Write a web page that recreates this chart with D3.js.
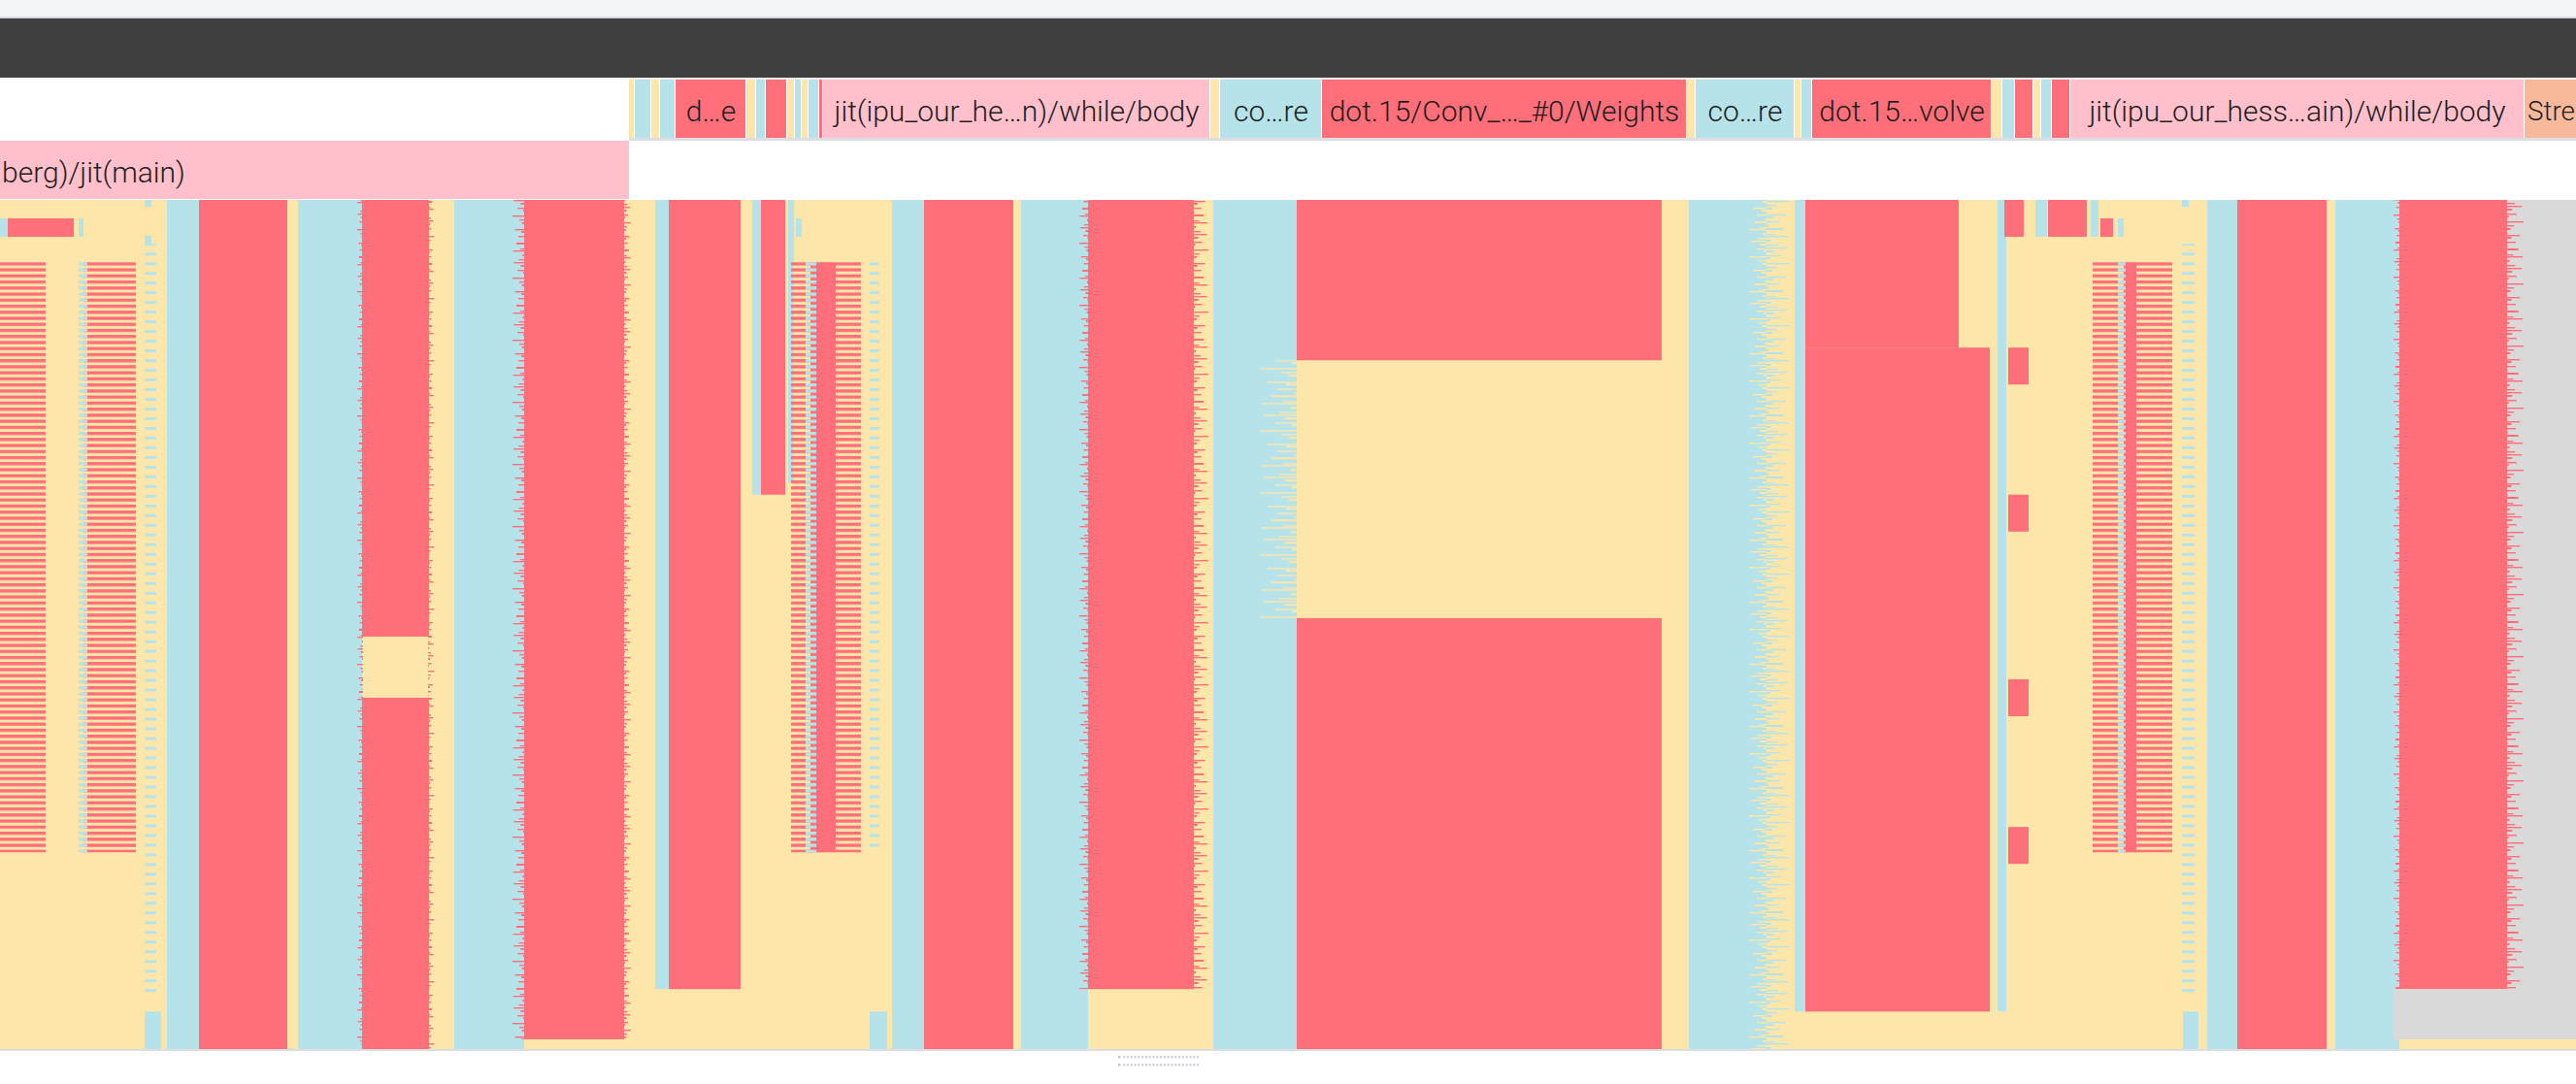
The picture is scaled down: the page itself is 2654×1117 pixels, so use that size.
<!DOCTYPE html>
<html>
<head>
<meta charset="utf-8">
<script src="https://cdn.jsdelivr.net/npm/d3@7"></script>
<style>
  html, body { margin: 0; padding: 0; background: #fff; overflow: hidden; }
  svg { display: block; }
  text { font-family: Roboto, "Noto Sans", sans-serif; }
</style>
</head>
<body>
<svg id="chart"></svg>
<script>
// Execution trace, time in k-cycles (x) and tile index (y)

// Top program track
const topStarts = [648, 654, 671, 680, 696, 769, 779, 789, 811, 819, 826, 833, 844, 848, 1247,
                   1257, 1362, 1738, 1747, 1849, 1856, 1867, 2052, 2063, 2076, 2095, 2103, 2114, 2133, 2601];
const topEnd = 2720;
const topKinds = ["sync", "comm", "sync", "comm", "exec", "sync", "comm", "exec", "sync", "comm",
                  "sync", "comm", "exec", "prog", "sync", "comm", "exec", "sync", "comm", "sync",
                  "comm", "exec", "sync", "comm", "exec", "sync", "comm", "exec", "prog", "stream"];
const topLabels = ["", "", "", "", "d…e", "", "", "", "", "", "", "", "", "jit(ipu_our_he…n)/while/body", "",
                   "co…re", "dot.15/Conv_…_#0/Weights", "", "co…re", "", "", "dot.15…volve", "", "", "",
                   "", "", "", "jit(ipu_our_hess…ain)/while/body", "Stre"];

// Parent program track
const parentStarts = [-600];
const parentEnds = [648];
const parentLabels = ["berg)/jit(main)"];

// Tile activity blocks: [start, end, firstTile, lastTile]
const syncBlocks = [[0, 2720, 0, 1472]];
const commBlocks = [
  [0, 8, 32, 64], [81, 86, 32, 64], [149, 156, 0, 12], [149, 156, 62, 76],
  [172, 205, 0, 1472], [307, 373, 0, 1472], [468, 540, 0, 1472],
  [675, 689, 0, 1368], [775, 784, 0, 511], [812, 818, 0, 490], [820, 826, 32, 64],
  [919, 952, 0, 1472], [1052, 1121, 0, 1472], [1250, 1336, 0, 1472],
  [1740, 1820, 0, 1472], [1849, 1860, 0, 1407], [2058, 2067, 0, 1407],
  [2097, 2109, 0, 64], [2154, 2162, 0, 64], [2182, 2188, 32, 64], [2248, 2255, 0, 12],
  [2274, 2305, 0, 1472], [2406, 2472, 0, 1472],
  [149, 166, 1407, 1472], [896, 914, 1407, 1472], [2249, 2265, 1407, 1472]
];
const execBlocks = [
  [8, 76, 32, 64], [205, 296, 0, 1472],
  [373, 442, 0, 757], [373, 442, 863, 1472],
  [540, 643, 0, 1455], [689, 763, 0, 1368], [784, 809, 0, 511], [835, 861, 108, 1131],
  [952, 1044, 0, 1472], [1121, 1230, 0, 1368],
  [1336, 1712, 0, 278], [1336, 1712, 725, 1472],
  [1860, 2018, 0, 256], [1860, 2050, 256, 1407],
  [2065, 2085, 0, 64], [2110, 2150, 0, 64], [2164, 2177, 32, 64],
  [2069, 2090, 256, 320], [2069, 2090, 511, 575], [2069, 2090, 831, 895], [2069, 2090, 1087, 1151],
  [2188, 2201, 108, 1131], [2305, 2397, 0, 1472], [2472, 2583, 0, 1368]
];
const idleBlocks = [[2583, 2720, 0, 1455], [2466, 2583, 1368, 1455]];

// Per-tile striped regions (short vertices on alternating tile groups)
const execStripes = [[0, 47, 108, 1131], [86, 140, 108, 1131], [815, 835, 108, 1131],
                     [861, 887, 108, 1131], [2156, 2188, 108, 1131], [2201, 2238, 108, 1131]];
const commStripes = [[81, 90, 108, 1131], [830, 841, 108, 1131], [2182, 2190, 108, 1131]];
const commFlecks = [[149, 161, 76, 1380], [896, 906, 108, 1131], [2248, 2261, 76, 1380]];

// Ragged block edges: [start, end, firstTile, lastTile, kind, side]
const raggedEdges = [
  [528, 541, 0, 1455, "exec", "left"], [643, 650, 0, 1455, "exec", "right"],
  [368, 374, 0, 1472, "exec", "left"], [441, 447, 0, 1472, "exec", "right"],
  [1112, 1122, 0, 1368, "exec", "left"], [1229, 1245, 0, 1368, "exec", "right"],
  [1802, 1820, 0, 1472, "sync", "left"], [1820, 1844, 0, 1472, "comm", "right"],
  [1298, 1337, 278, 725, "sync", "left"],
  [2466, 2473, 0, 1368, "exec", "left"], [2582, 2600, 0, 1368, "exec", "right"]
];

const COLORS = {
  exec:   "#ff6f7a",
  sync:   "#fce6aa",
  comm:   "#b6e3e9",
  prog:   "#ffc0cb",
  stream: "#f8b99b",
  idle:   "#d9d9d9"
};

const W = 2654, H = 1117;
const x = d3.scaleLinear().domain([0, 2654]).range([0, W]);
const y = d3.scaleLinear().domain([0, 1472]).range([206, 1081]);

const svg = d3.select("#chart")
  .attr("width", W)
  .attr("height", H)
  .attr("viewBox", `0 0 ${W} ${H}`);

const defs = svg.append("defs");

// Chrome: toolbar strip and dark header band
svg.append("rect").attr("x", 0).attr("y", 0).attr("width", W).attr("height", 17).attr("fill", "#f4f5f9");
svg.append("rect").attr("x", 0).attr("y", 17).attr("width", W).attr("height", 2).attr("fill", "#dcdde3");
svg.append("rect").attr("x", 0).attr("y", 19).attr("width", W).attr("height", 61).attr("fill", "#404040");
svg.append("rect").attr("x", 0).attr("y", 80).attr("width", W).attr("height", 2).attr("fill", "#f0f0f0");

const LABEL_FONT = 30;

// Top track
const ROW1 = { y: 82, h: 60 };
const topData = topStarts.map((s, i) => ({
  start: s, end: i < topStarts.length - 1 ? topStarts[i + 1] : topEnd,
  kind: topKinds[i], label: topLabels[i]
}));

svg.append("rect")
  .attr("x", x(topStarts[0])).attr("y", ROW1.y + ROW1.h)
  .attr("width", W - x(topStarts[0])).attr("height", 3)
  .attr("fill", "#dcdde5");

const topTrack = svg.append("g");
topTrack.selectAll("rect")
  .data(topData)
  .join("rect")
  .attr("x", d => x(d.start))
  .attr("y", ROW1.y)
  .attr("width", d => Math.max(0.5, x(d.end) - x(d.start) - 1))
  .attr("height", ROW1.h)
  .attr("fill", d => COLORS[d.kind]);

topTrack.selectAll("text")
  .data(topData.filter(d => d.label))
  .join("text")
  .attr("x", d => x(d.end) > W ? x(d.start) + 3 : (x(d.start) + x(d.end)) / 2)
  .attr("y", ROW1.y + ROW1.h / 2)
  .attr("dy", "0.42em")
  .attr("text-anchor", d => x(d.end) > W ? "start" : "middle")
  .attr("font-size", LABEL_FONT + "px")
  .attr("font-weight", 300)
  .attr("fill", "#1e1e1e")
  .text(d => d.label)
  .each(function (d) {
    // a box running past the view edge: keep the visible part of its label inside
    if (x(d.end) <= W) return;
    const room = W - x(d.start) - 4;
    const len = this.getComputedTextLength();
    if (len > room) d3.select(this).attr("font-size", (LABEL_FONT * room / len) + "px");
  });

// Parent track
const ROW2 = { y: 145, h: 60 };
const parentTrack = svg.append("g");
parentTrack.selectAll("rect")
  .data(parentStarts)
  .join("rect")
  .attr("x", d => x(d))
  .attr("y", ROW2.y)
  .attr("width", (d, i) => x(parentEnds[i]) - x(d))
  .attr("height", ROW2.h)
  .attr("fill", COLORS.prog);

parentTrack.selectAll("text")
  .data(parentLabels)
  .join("text")
  .attr("x", 2)
  .attr("y", ROW2.y + ROW2.h / 2)
  .attr("dy", "0.42em")
  .attr("font-size", LABEL_FONT + "px")
  .attr("font-weight", 300)
  .attr("fill", "#1e1e1e")
  .text(d => d);

// Tile activity area
const area = svg.append("g");

function drawBlocks(data, fill) {
  area.append("g")
    .selectAll("rect")
    .data(data)
    .join("rect")
    .attr("x", d => x(d[0]))
    .attr("y", d => y(d[2]))
    .attr("width", d => x(d[1]) - x(d[0]))
    .attr("height", d => y(d[3]) - y(d[2]))
    .attr("fill", fill);
}

// stripe patterns, one tile-group per stripe
const pitch = y(10.5) - y(0);
function stripePattern(id, color, period, thick) {
  const p = defs.append("pattern")
    .attr("id", id)
    .attr("patternUnits", "userSpaceOnUse")
    .attr("x", 0).attr("y", y(108))
    .attr("width", 40).attr("height", period);
  p.append("rect").attr("x", 0).attr("y", 0).attr("width", 40).attr("height", thick).attr("fill", color);
}
stripePattern("stripe-exec", COLORS.exec, pitch, 3.3);
stripePattern("stripe-comm", COLORS.comm, pitch, 3.3);
stripePattern("fleck-comm", COLORS.comm, pitch * 1.6, 3);

drawBlocks(syncBlocks, COLORS.sync);
drawBlocks(commBlocks, COLORS.comm);
drawBlocks(execBlocks, COLORS.exec);
drawBlocks(idleBlocks, COLORS.idle);
drawBlocks(execStripes, "url(#stripe-exec)");
drawBlocks(commStripes, "url(#stripe-comm)");
drawBlocks(commFlecks, "url(#fleck-comm)");

// ragged edges: short per-tile overruns, irregular lengths
const raggedLens = [0.9, 0.35, 0.6, 0.15, 1.0, 0.45, 0.25, 0.8, 0.3, 0.55, 0.1, 0.7, 0.4, 0.95, 0.2, 0.5];
const raggedGaps = [3, 5, 2, 6, 4, 3, 7, 2, 5, 4, 3, 6, 2, 4, 5, 3];
raggedEdges.forEach((d, i) => {
  const x0 = x(d[0]), w = x(d[1]) - x(d[0]);
  const ph = d3.sum(raggedGaps);
  const offs = d3.cumsum(raggedGaps);
  const p = defs.append("pattern")
    .attr("id", `ragged-${i}`)
    .attr("patternUnits", "userSpaceOnUse")
    .attr("x", x0).attr("y", y(d[2]) + i * 7)
    .attr("width", w).attr("height", ph);
  p.selectAll("rect")
    .data(raggedLens)
    .join("rect")
    .attr("x", f => d[5] === "right" ? 0 : w * (1 - f))
    .attr("y", (f, j) => offs[j] - raggedGaps[j])
    .attr("width", f => w * f)
    .attr("height", (f, j) => raggedGaps[j] > 4 ? 2 : 1.4)
    .attr("fill", COLORS[d[4]]);
});
area.append("g")
  .selectAll("rect")
  .data(raggedEdges)
  .join("rect")
  .attr("x", d => x(d[0]))
  .attr("y", d => y(d[2]))
  .attr("width", d => x(d[1]) - x(d[0]))
  .attr("height", d => y(d[3]) - y(d[2]))
  .attr("fill", (d, i) => `url(#ragged-${i})`);

// bottom border and resize handle
svg.append("rect").attr("x", 0).attr("y", 1081).attr("width", W).attr("height", 2).attr("fill", "#dcdde3");
[1089, 1097].forEach(hy => {
  svg.append("rect").attr("x", 1152).attr("y", hy - 1).attr("width", 2.4).attr("height", 2.4).attr("fill", "#c4c4cc");
  svg.append("line")
    .attr("x1", 1157).attr("x2", 1236)
    .attr("y1", hy + 0.2).attr("y2", hy + 0.2)
    .attr("stroke", "#d2d2dc")
    .attr("stroke-width", 2.4)
    .attr("stroke-dasharray", "2.2 1.6");
});
</script>
</body>
</html>
